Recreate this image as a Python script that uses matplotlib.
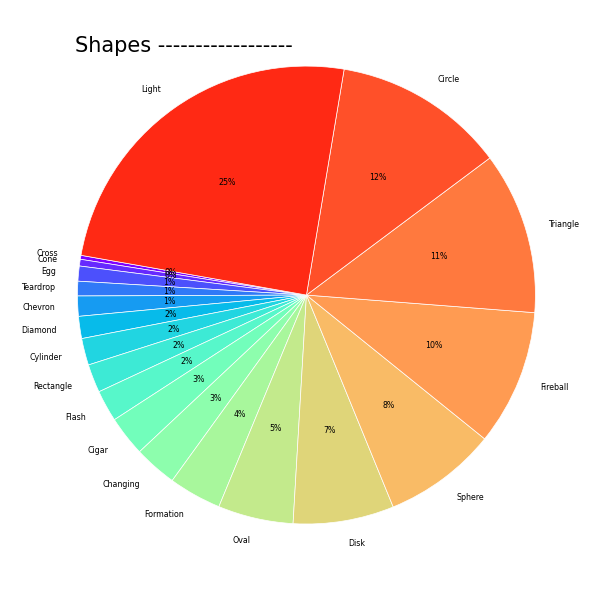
import numpy as np
import matplotlib
matplotlib.use('Agg')
import matplotlib.pyplot as plt

# shapes, smallest first (pie runs counterclockwise)
shapes = ['Cross', 'Cone', 'Egg', 'Teardrop', 'Chevron', 'Diamond', 'Cylinder',
          'Rectangle', 'Flash', 'Cigar', 'Changing', 'Formation', 'Oval', 'Disk',
          'Sphere', 'Fireball', 'Triangle', 'Circle', 'Light']
share = [0.28, 0.47, 1.06, 1.03, 1.42, 1.56, 1.89,
         2.00, 2.22, 2.83, 3.03, 3.72, 5.31, 7.11,
         8.00, 9.57, 11.43, 12.14, 24.83]

colors = plt.cm.rainbow(np.arange(len(shapes)) / len(shapes))

fig = plt.figure(figsize=(6, 6), dpi=100)
ax = fig.add_axes([0.03375, 0.03125, 0.954, 0.954])

ax.pie(share, labels=shapes, colors=colors, autopct='%1.0f%%', startangle=170,
       wedgeprops={'edgecolor': 'white', 'linewidth': 0.5},
       textprops={'fontsize': 5.7})
ax.set_xlim(-1.25, 1.25)
ax.set_ylim(-1.25, 1.25)
ax.set_aspect('equal')

fig.text(0.125, 1 - 46 / 600, 'Shapes ' + '-' * 18, fontsize=15, va='center')

plt.savefig('out.png', dpi=100)
